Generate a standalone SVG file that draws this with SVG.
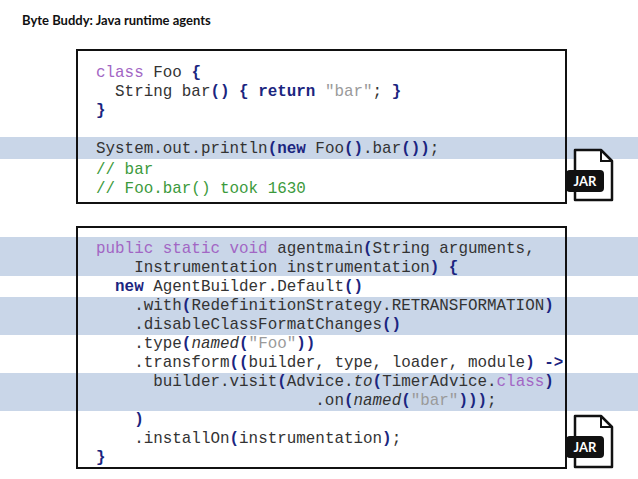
<svg xmlns="http://www.w3.org/2000/svg" width="638" height="479" viewBox="0 0 638 479">
<style>
.c{font-family:"Liberation Mono","Courier New",monospace;font-size:15.9px;fill:#333;white-space:pre}
.k{fill:#a266c4}.b{fill:#1b2580;font-weight:bold}.s{fill:#9a9a9a}.g{fill:#3c9a3c}.i{font-style:italic}
.hl{fill:#c9d6e8}
.box{fill:none;stroke:#111;stroke-width:2}
.doc{fill:#fff;stroke:#111;stroke-width:2.5;stroke-linejoin:round}
.jl{font-family:Lato,"Liberation Sans",sans-serif;font-weight:bold;font-size:13px;fill:#fff}
</style>
<rect width="638" height="479" fill="#fff"/>
<text x="22" y="25" font-family="Lato,'Liberation Sans',sans-serif" font-weight="bold" font-size="13" fill="#111">Byte Buddy: Java runtime agents</text>
<g id="highlights">
<rect class="hl" x="0" y="137" width="638" height="22"/>
<rect class="hl" x="0" y="237" width="638" height="39"/>
<rect class="hl" x="0" y="297" width="638" height="38"/>
<rect class="hl" x="0" y="373" width="638" height="38"/>
</g>
<g id="box1">
<rect class="box" x="77" y="50" width="489" height="153"/>
<text class="c" x="96" y="77"><tspan class="k">class</tspan> Foo <tspan class="b">{</tspan></text>
<text class="c" x="96" y="96">  String bar<tspan class="b">()</tspan> <tspan class="b">{</tspan> <tspan class="b">return</tspan> <tspan class="s">"bar"</tspan>; <tspan class="b">}</tspan></text>
<text class="c" x="96" y="115"><tspan class="b">}</tspan></text>
<text class="c" x="96" y="153">System.out.println<tspan class="b">(new</tspan> Foo<tspan class="b">()</tspan>.bar<tspan class="b">())</tspan>;</text>
<text class="c g" x="96" y="174">// bar</text>
<text class="c g" x="96" y="193">// Foo.bar() took 1630</text>
</g>
<g id="box2">
<rect class="box" x="77" y="227" width="489" height="241"/>
<text class="c" x="96" y="253"><tspan class="k">public static void</tspan> agentmain<tspan class="b">(</tspan>String arguments,</text>
<text class="c" x="96" y="272">    Instrumentation instrumentation<tspan class="b">)</tspan> <tspan class="b">{</tspan></text>
<text class="c" x="96" y="291">  <tspan class="b">new</tspan> AgentBuilder.Default<tspan class="b">()</tspan></text>
<text class="c" x="96" y="310">    .with<tspan class="b">(</tspan>RedefinitionStrategy.RETRANSFORMATION<tspan class="b">)</tspan></text>
<text class="c" x="96" y="329">    .disableClassFormatChanges<tspan class="b">()</tspan></text>
<text class="c" x="96" y="348">    .type<tspan class="b">(</tspan><tspan class="i">named</tspan><tspan class="b">(</tspan><tspan class="s">"Foo"</tspan><tspan class="b">))</tspan></text>
<text class="c" x="96" y="367">    .transform<tspan class="b">((</tspan>builder, type, loader, module<tspan class="b">)</tspan> <tspan class="b">-&gt;</tspan></text>
<text class="c" x="96" y="386">      builder.visit<tspan class="b">(</tspan>Advice.<tspan class="i">to</tspan><tspan class="b">(</tspan>TimerAdvice.<tspan class="k">class</tspan><tspan class="b">)</tspan></text>
<text class="c" x="96" y="405">                       .on<tspan class="b">(</tspan><tspan class="i">named</tspan><tspan class="b">(</tspan><tspan class="s">"bar"</tspan><tspan class="b">)))</tspan>;</text>
<text class="c" x="96" y="424">    <tspan class="b">)</tspan></text>
<text class="c" x="96" y="443">    .installOn<tspan class="b">(</tspan>instrumentation<tspan class="b">)</tspan>;</text>
<text class="c" x="96" y="462"><tspan class="b">}</tspan></text>
</g>
<g id="jar1">
<path class="doc" d="M575 150 H601 L612 161 V200 H575 Z"/>
<path d="M601 150 V161 H612" fill="none" stroke="#111" stroke-width="2"/>
<rect x="566" y="170" width="38" height="22" rx="4" fill="#111"/>
<text class="jl" x="585" y="186" text-anchor="middle">JAR</text>
</g>
<g id="jar2">
<path class="doc" d="M575 416 H601 L612 427 V467 H575 Z"/>
<path d="M601 416 V427 H612" fill="none" stroke="#111" stroke-width="2"/>
<rect x="566" y="436" width="38" height="22" rx="4" fill="#111"/>
<text class="jl" x="585" y="452" text-anchor="middle">JAR</text>
</g>
</svg>
